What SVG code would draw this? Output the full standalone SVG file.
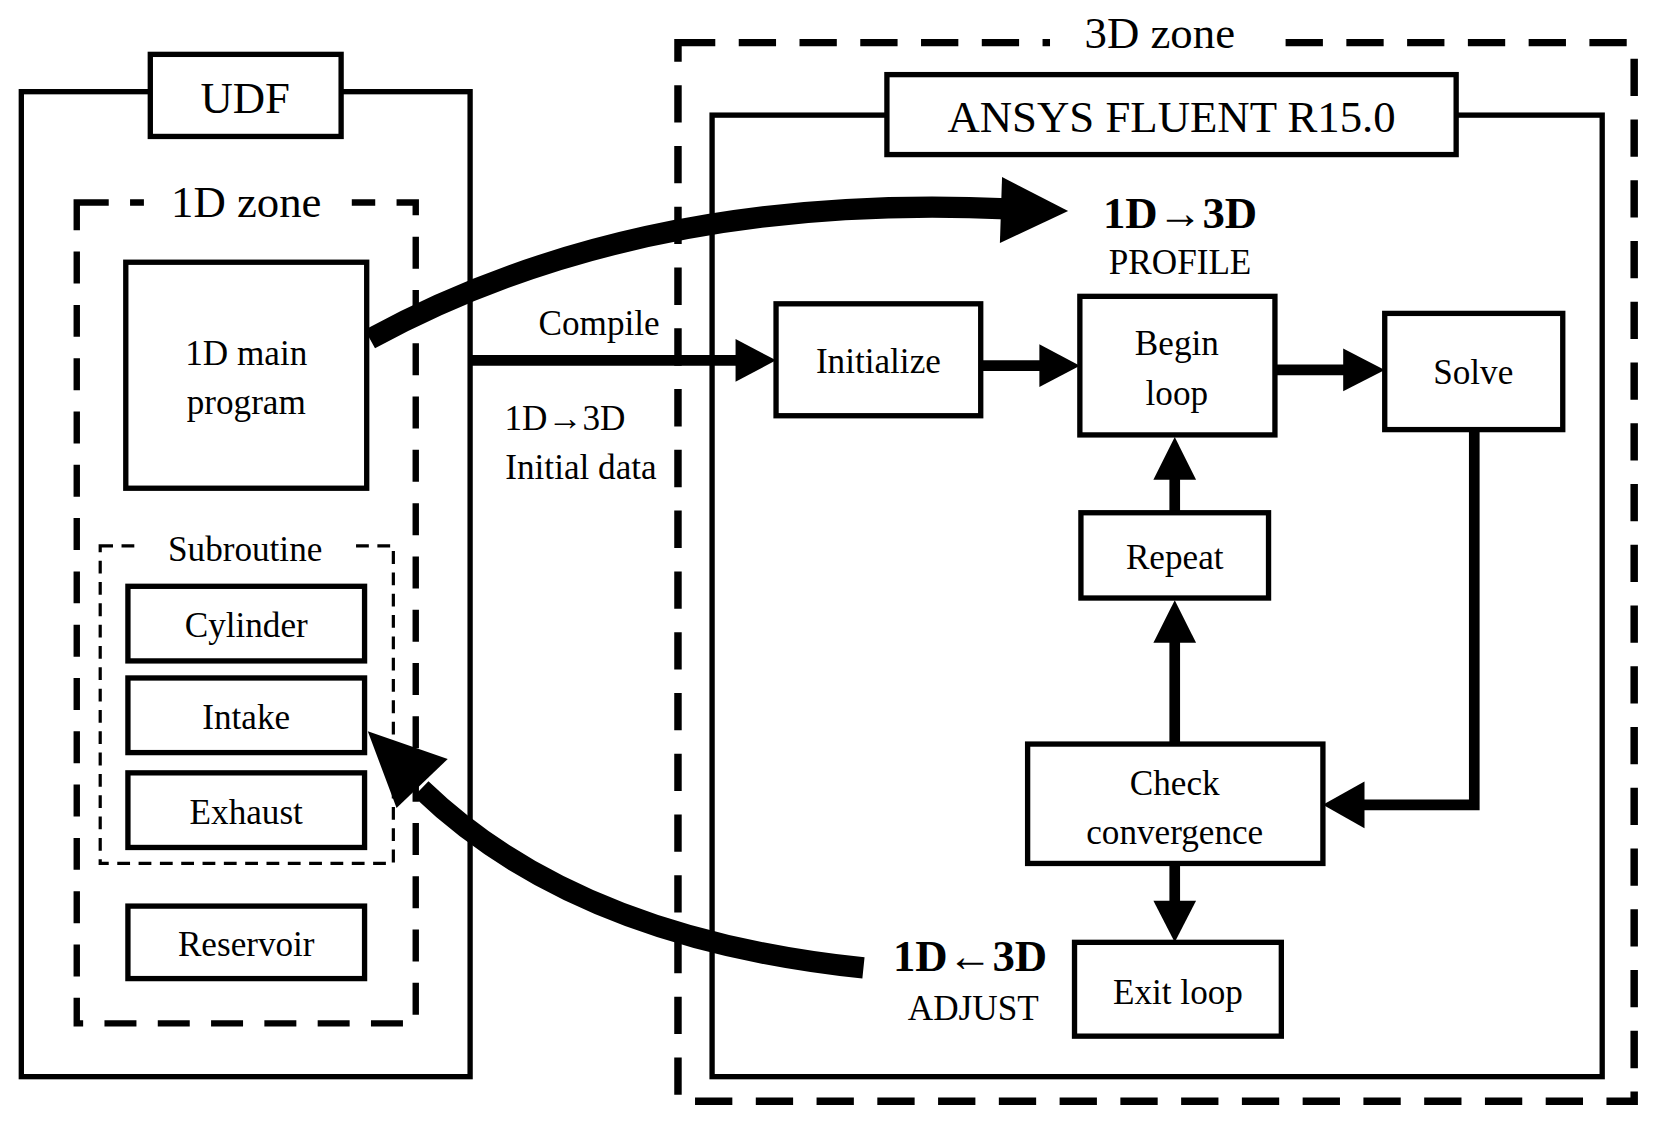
<svg xmlns="http://www.w3.org/2000/svg" width="1673" height="1133" viewBox="0 0 1673 1133">
<style>
.b{fill:#fff;stroke:#000;stroke-width:5}
.t{font-family:"Liberation Serif","Times New Roman",serif;font-size:33px;fill:#000;text-anchor:middle}
.h{font-family:"Liberation Serif","Times New Roman",serif;font-size:42px;fill:#000;text-anchor:middle}
.bd{font-weight:bold}
.c{stroke:#000;stroke-width:10;fill:none}
</style>
<rect width="1673" height="1133" fill="#fff"/>
<g transform="scale(1.066)">
<g id="udf">
<rect class="b" x="20" y="86" width="421" height="924" fill="none"/>
<rect class="b" x="141" y="51" width="179" height="77"/>
<text class="h" x="230" y="106">UDF</text>
</g>
<g id="zone1d">
<rect x="72" y="190" width="318" height="770" fill="none" stroke="#000" stroke-width="6" stroke-dasharray="30 20"/>
<rect x="135" y="168" width="195" height="40" fill="#fff"/>
<text class="h" x="231" y="204">1D zone</text>
</g>
<g id="main1d"><rect class="b" x="118" y="246" width="226" height="212"/>
<text class="t" x="231" y="342">1D main</text><text class="t" x="231" y="388">program</text></g>
<g id="subroutine">
<rect x="94" y="512" width="275" height="298" fill="none" stroke="#000" stroke-width="3" stroke-dasharray="12 8"/>
<rect x="130" y="495" width="200" height="35" fill="#fff"/>
<text class="t" x="230" y="526">Subroutine</text></g>
<g id="cylinder"><rect class="b" x="120" y="550" width="222" height="70"/><text class="t" x="231" y="598">Cylinder</text></g>
<g id="intake"><rect class="b" x="120" y="636" width="222" height="70"/><text class="t" x="231" y="684">Intake</text></g>
<g id="exhaust"><rect class="b" x="120" y="725" width="222" height="70"/><text class="t" x="231" y="773">Exhaust</text></g>
<g id="reservoir"><rect class="b" x="120" y="850" width="222" height="68"/><text class="t" x="231" y="897">Reservoir</text></g>
<g id="zone3d">
<rect x="636" y="40" width="897" height="993" fill="none" stroke="#000" stroke-width="7" stroke-dasharray="35 22"/>
<rect x="985" y="10" width="205" height="45" fill="#fff"/>
<text class="h" x="1088" y="45">3D zone</text></g>
<g id="fluent">
<rect class="b" x="668" y="108" width="835" height="902" fill="none"/>
<rect class="b" x="832" y="70" width="534" height="75"/>
<text class="h" x="1099" y="124">ANSYS FLUENT R15.0</text></g>
<g id="initialize"><rect class="b" x="728" y="285" width="192" height="105"/><text class="t" x="824" y="350">Initialize</text></g>
<g id="beginloop"><rect class="b" x="1013" y="278" width="183" height="130"/><text class="t" x="1104" y="333">Begin</text><text class="t" x="1104" y="380">loop</text></g>
<g id="solve"><rect class="b" x="1299" y="294" width="167" height="109"/><text class="t" x="1382" y="360">Solve</text></g>
<g id="repeat"><rect class="b" x="1014" y="481" width="176" height="80"/><text class="t" x="1102" y="534">Repeat</text></g>
<g id="check"><rect class="b" x="964" y="698" width="277" height="112"/><text class="t" x="1102" y="746">Check</text><text class="t" x="1102" y="792">convergence</text></g>
<g id="exitloop"><rect class="b" x="1008" y="884" width="194" height="88"/><text class="t" x="1105" y="942">Exit loop</text></g>
<g id="connectors">
<path class="c" d="M441,338 H695"/><polygon points="690,318 728,338 690,358"/>
<path class="c" d="M920,343 H980"/><polygon points="975,323 1013,343 975,363"/>
<path class="c" d="M1196,347 H1265"/><polygon points="1260,327 1299,347 1260,367"/>
<path class="c" d="M1383,403 V755 H1275"/><polygon points="1280,733 1241,755 1280,777"/>
<path class="c" d="M1102,698 V598"/><polygon points="1082,603 1102,563 1122,603"/>
<path class="c" d="M1102,481 V445"/><polygon points="1082,450 1102,410 1122,450"/>
<path class="c" d="M1102,810 V850"/><polygon points="1082,845 1102,884 1122,845"/>
<path d="M347,318 Q600,180 945,196" stroke="#000" stroke-width="20" fill="none"/>
<polygon points="940,166 1002,198 938,228"/>
<path d="M810,908 Q540,880 395,740" stroke="#000" stroke-width="20" fill="none"/>
<polygon points="345,686 420,712 372,758"/>
<text class="h bd" x="1107" y="214">1D→3D</text>
<text class="t" x="1107" y="257">PROFILE</text>
<text class="t" x="562" y="314">Compile</text>
<text class="t" x="530" y="403">1D→3D</text>
<text class="t" x="545" y="449">Initial data</text>
<text class="h bd" x="910" y="911">1D←3D</text>
<text class="t" x="913" y="957">ADJUST</text>
</g>
</g>
</svg>
